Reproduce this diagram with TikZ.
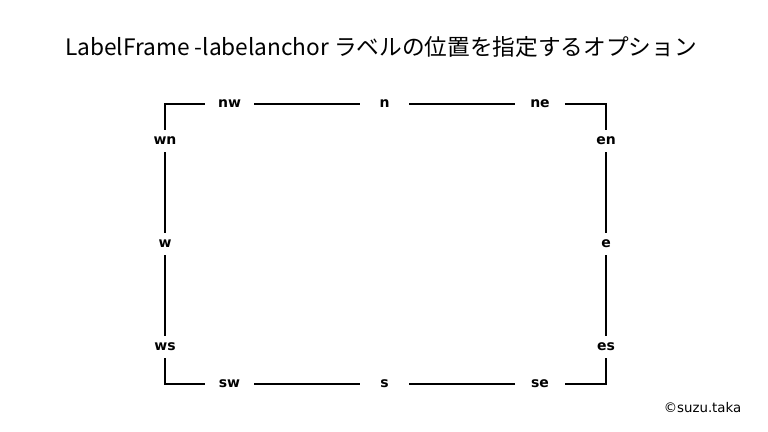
\documentclass[tikz,border=0pt]{standalone}
\usepackage{fontspec}
\setmainfont{DejaVu Sans}
\newfontfamily\jpfont{Noto Sans CJK JP}
\begin{document}
\begin{tikzpicture}[x=0.75pt, y=-0.75pt,
    hlabel/.style={inner sep=0pt, minimum width=36.75pt, minimum height=10pt, font=\bfseries\fontsize{10.5}{12}\selectfont},
    vlabel/.style={inner sep=0pt, minimum width=10pt, minimum height=16.5pt, font=\bfseries\fontsize{10.5}{12}\selectfont},
    frameline/.style={line width=1.5pt, line cap=butt}]
        \useasboundingbox[fill=white] (0,0) rectangle (768,432);

        \node[font=\jpfont\fontsize{17}{20}\selectfont] (title) at (381,47) {LabelFrame -labelanchor ラベルの位置を指定するオプション};

        % Top labels
        \node[hlabel] (nw) at (229.5,104) {nw};
        \node[hlabel] (n) at (384.5,104) {n};
        \node[hlabel] (ne) at (540,104) {ne};

        % Bottom labels
        \node[hlabel] (sw) at (229.5,384) {sw};
        \node[hlabel] (s) at (384.5,384) {s};
        \node[hlabel] (se) at (540,384) {se};

        % Left labels
        \node[vlabel] (wn) at (165,141) {wn};
        \node[vlabel] (w) at (165,244) {w};
        \node[vlabel] (ws) at (165,347) {ws};

        % Right labels
        \node[vlabel] (en) at (606,141) {en};
        \node[vlabel] (e) at (606,244) {e};
        \node[vlabel] (es) at (606,347) {es};

        \draw[frameline] (wn.north) |- (nw.west);
        \draw[frameline] (nw.east) -- (n.west);
        \draw[frameline] (n.east) -- (ne.west);
        \draw[frameline] (ne.east) -| (en.north);
        \draw[frameline] (en.south) -- (e.north);
        \draw[frameline] (e.south) -- (es.north);
        \draw[frameline] (es.south) |- (se.east);
        \draw[frameline] (se.west) -- (s.east);
        \draw[frameline] (s.west) -- (sw.east);
        \draw[frameline] (sw.west) -| (ws.south);
        \draw[frameline] (ws.north) -- (w.south);
        \draw[frameline] (w.north) -- (wn.south);

        % Add copyright
        \node[font=\fontsize{10}{12}\selectfont, anchor=east] (copy) at (746,408) {©suzu.taka};
    \end{tikzpicture}
\end{document}
